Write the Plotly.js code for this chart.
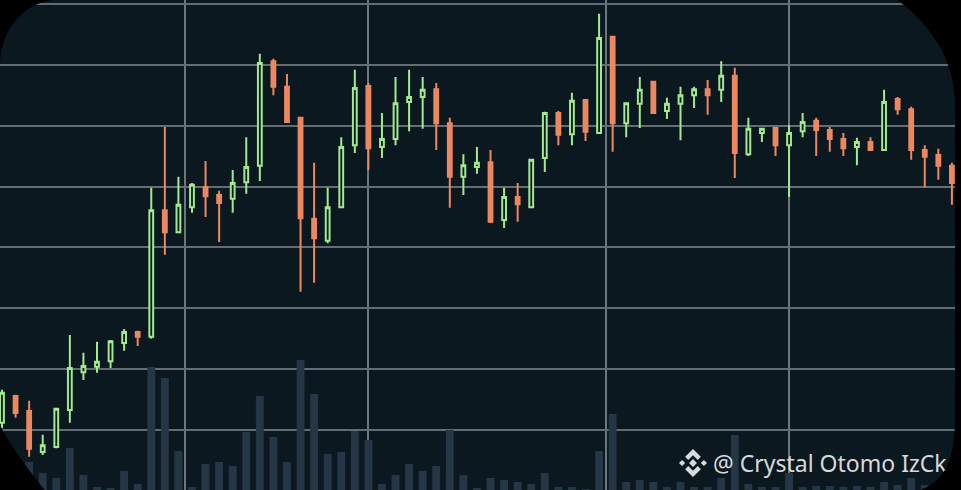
<!DOCTYPE html>
<html>
<head>
<meta charset="utf-8">
<script src="https://cdn.plot.ly/plotly-3.0.1.min.js"></script>
<style>
  html, body { margin: 0; padding: 0; background: #000000; overflow: hidden; }
  #panel {
    position: absolute; left: 0; top: 0; width: 961px; height: 490px;
    background: #0c1820; overflow: hidden;
    clip-path: path('M 0 65 C 0 30 25 0 58 0 L 897 0 C 912 10 953 45 955 100 L 955 415 C 955 458 947 480 920 490 L 910 500 L 50 500 L 45 490 C 30 472 10 445 0 425 Z');
  }
  #chart { position: absolute; left: 0; top: 0; width: 961px; height: 490px; }
</style>
</head>
<body>
<div id="panel"><div id="chart"></div></div>
<script>
// ---- data ----
const candleIndex = Array.from({length: 71}, (_, i) => i);

const openPrices = [11.2,15.6,13.1,6.4,7.2,13.3,19.5,20.4,21.3,24.3,26.1,25.3,46.1,42.5,46.6,49.9,48.6,48.0,50.7,53.4,
  70.6,66.4,61.3,44.7,41.1,46.6,56.8,66.5,56.5,57.8,63.9,64.7,66.0,60.4,51.6,53.2,54.0,44.5,48.3,46.6,
  54.7,62.1,58.6,64.2,58.8,74.6,60.4,63.6,67.2,62.4,63.6,65.0,66.0,65.9,68.2,55.3,58.8,59.6,56.8,59.1,
  60.8,59.3,57.8,56.5,57.3,56.0,64.4,62.7,56.0,55.2,53.4];

const highPrices = [16.6,15.8,14.8,9.2,13.6,25.6,22.7,24.5,24.8,26.6,26.3,49.8,59.8,51.6,50.6,54.2,49.3,52.7,58.1,71.8,
  71.0,68.5,61.3,53.9,49.8,58.1,69.2,67.0,62.1,68.0,69.2,68.0,67.0,61.3,55.3,56.5,56.0,49.8,50.6,54.4,
  62.3,62.4,65.4,64.2,78.4,74.6,63.7,68.0,67.2,64.6,66.4,66.4,67.5,70.6,69.5,61.3,59.5,59.6,60.1,62.1,
  61.3,59.8,58.8,58.0,58.1,65.9,64.7,63.1,56.8,56.2,53.9];

const lowPrices = [10.3,12.0,5.6,5.9,7.0,11.2,18.2,19.4,20.2,23.0,23.8,25.0,38.8,42.5,45.7,45.0,40.9,45.7,48.8,50.9,
  65.0,60.6,32.7,34.2,40.7,46.6,55.5,52.7,54.7,56.8,59.1,59.5,56.0,46.5,48.6,52.1,44.0,43.2,44.2,46.5,
  52.4,56.8,56.8,57.5,58.8,55.7,58.1,59.6,62.1,61.1,57.6,62.9,61.8,63.9,51.4,55.0,57.3,55.0,48.3,58.1,
  55.0,55.7,55.0,53.5,56.0,56.0,61.8,54.4,49.9,51.1,47.0];

const closePrices = [16.1,12.8,6.9,7.5,13.5,20.2,20.5,21.2,24.6,26.1,25.3,46.1,42.5,47.0,50.3,48.4,47.3,50.6,53.2,70.3,
  66.4,60.6,44.8,41.5,46.6,56.5,66.2,56.3,57.8,63.7,64.7,65.9,60.4,51.6,53.5,53.9,44.2,48.3,47.1,54.4,
  62.1,58.5,64.1,59.0,74.4,60.4,63.7,65.9,62.1,63.6,65.0,66.0,65.0,68.2,55.5,59.5,59.5,56.8,58.8,60.6,
  59.3,57.8,56.3,57.3,56.0,63.9,62.7,56.0,54.9,53.4,50.6];

const volumes = [30,25,28,17,12,42,15,3,2,19,6,123,112,39,3,26,28,24,58,94,
  53,28,130,96,36,38,59,50,6,15,26,19,24,60,15,2,12,10,8,6,
  17,3,3,1,39,76,8,10,8,3,8,3,3,12,55,6,3,3,17,3,
  4,4,3,4,3,8,5,12,5,4,5];

// vertical grid positions (between candles) and price grid step
const xGridAt = [13.5, 27, 44.5, 58];
const priceGridStep = 10;

const watermarkText = "@ Crystal Otomo IzCk";

// ---- styling ----
const BG = '#0c1820';
const GREEN = '#a3e98f';
const ORANGE = '#ec8860';
const VOL = '#253646';
const GRID_H = '#646d74';
const GRID_V = '#6e767d';
const W = 961, H = 490;

// Binance-like logo (decoration), built in unit coords then mapped to paper
function unitPath(pts, cx, cy, r) {
  return pts.map((p, i) => (i ? 'L' : 'M') + ((cx + p[0] * r) / W).toFixed(5) + ',' + (1 - (cy - p[1] * r) / H).toFixed(5)).join(' ') + ' Z';
}
const logoParts = [
  [[0,0.28],[0.28,0],[0,-0.28],[-0.28,0]],
  [[-0.78,0.22],[-0.56,0],[-0.78,-0.22],[-1,0]],
  [[0.78,0.22],[1,0],[0.78,-0.22],[0.56,0]],
  [[0,1],[0.56,0.44],[0.34,0.22],[0,0.56],[-0.34,0.22],[-0.56,0.44]],
  [[0,-1],[0.56,-0.44],[0.34,-0.22],[0,-0.56],[-0.34,-0.22],[-0.56,-0.44]]
];
const logoShapes = logoParts.map(pts => ({
  type: 'path', xref: 'paper', yref: 'paper', layer: 'above',
  path: unitPath(pts, 693, 463, 14),
  fillcolor: 'rgba(228,230,232,0.95)', line: {width: 0}
}));

const traces = [
  {
    type: 'bar', x: candleIndex, y: volumes, yaxis: 'y',
    marker: {color: VOL, line: {width: 0}}, width: 0.58,
    hoverinfo: 'skip', showlegend: false
  },
  {
    type: 'candlestick', x: candleIndex,
    open: openPrices, high: highPrices, low: lowPrices, close: closePrices,
    yaxis: 'y2',
    increasing: {line: {color: GREEN, width: 2}, fillcolor: BG},
    decreasing: {line: {color: ORANGE, width: 2}, fillcolor: ORANGE},
    whiskerwidth: 0,
    hoverinfo: 'skip', showlegend: false
  }
];

const layout = {
  width: W, height: H,
  margin: {l: 0, r: 0, t: 0, b: 0, pad: 0},
  paper_bgcolor: 'rgba(0,0,0,0)', plot_bgcolor: 'rgba(0,0,0,0)',
  showlegend: false,
  boxgap: 0.6,
  bargap: 0.4,
  xaxis: {
    range: [-0.147, 70.67], tickmode: 'array', tickvals: xGridAt,
    showticklabels: false, ticks: '', showgrid: true, gridcolor: GRID_V, gridwidth: 2,
    zeroline: false, showline: false, rangeslider: {visible: false}, fixedrange: true
  },
  yaxis: {
    range: [0, 490], showgrid: false, showticklabels: false, ticks: '',
    zeroline: false, showline: false, fixedrange: true
  },
  yaxis2: {
    overlaying: 'y', range: [0.14, 80.65], tick0: 0, dtick: priceGridStep,
    showgrid: true, gridcolor: GRID_H, gridwidth: 2,
    showticklabels: false, ticks: '', zeroline: false, showline: false, fixedrange: true
  },
  shapes: logoShapes,
  annotations: [{
    text: watermarkText, xref: 'paper', yref: 'paper',
    x: 711 / W, y: 1 - 463 / H, xanchor: 'left', yanchor: 'middle',
    showarrow: false,
    font: {family: 'Noto Sans, Open Sans, sans-serif', size: 23, color: 'rgba(228,230,232,0.95)'}
  }]
};

Plotly.newPlot('chart', traces, layout, {staticPlot: true, displayModeBar: false});
</script>
</body>
</html>
